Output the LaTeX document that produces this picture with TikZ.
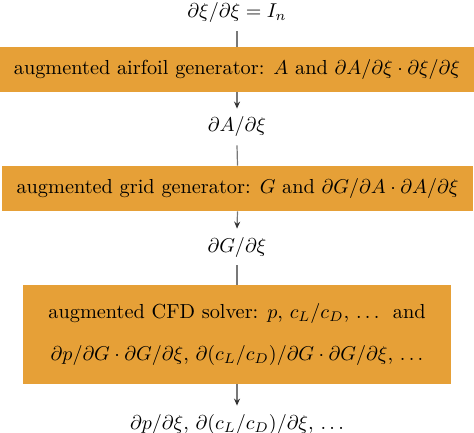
\documentclass[tikz,border=0pt]{standalone}
\usetikzlibrary{arrows.meta}
\definecolor{boxorange}{RGB}{230,160,55}
\definecolor{linegray}{RGB}{120,120,120}
\begin{document}
\begin{tikzpicture}[x=0.5pt,y=-0.5pt,
  every node/.style={font=\fontsize{10.15}{12}\selectfont},
  stagebox/.style={draw=none,fill=boxorange,rectangle,inner sep=0pt,align=center,text=black},
  quant/.style={inner sep=4pt},
  feed/.style={draw=linegray,line width=0.6pt},
  outflow/.style={draw=linegray,line width=0.6pt,-{Stealth[length=3.5pt,width=3pt,black!80]}}]
\useasboundingbox (0,0) rectangle (474,432);
\node[quant] (q0) at (237,13) {$\partial\xi/\partial\xi = I_n$};
\node[stagebox,minimum width=237pt,minimum height=22.5pt] (b1) at (237,69.5)
  {augmented airfoil generator: $A$ and $\partial A/\partial\xi\cdot\partial\xi/\partial\xi$};
\node[quant] (q1) at (237,127) {$\partial A/\partial\xi$};
\node[stagebox,minimum width=235.5pt,minimum height=22.5pt] (b2) at (237.5,188.5)
  {augmented grid generator: $G$ and $\partial G/\partial A\cdot\partial A/\partial\xi$};
\node[quant] (q2) at (237,247) {$\partial G/\partial\xi$};
\node[stagebox,minimum width=214pt,minimum height=49.5pt] (b3) at (237,334.5)
  {augmented CFD solver: $p$, $c_L/c_D$, $\ldots$\ \ and\\[9pt]
   $\partial p/\partial G\cdot\partial G/\partial\xi$, $\partial(c_L/c_D)/\partial G\cdot\partial G/\partial\xi$, $\ldots$};
\node[quant] (q3) at (237,424) {$\partial p/\partial\xi$, $\partial(c_L/c_D)/\partial\xi$, $\ldots$};
\draw[feed] (q0.south) -- (b1.north);
\draw[outflow] (b1.south) -- (q1.north);
\draw[feed] (q1.south) -- (b2.north);
\draw[outflow] (b2.south) -- (q2.north);
\draw[feed] (q2.south) -- (b3.north);
\draw[outflow] (b3.south) -- (q3.north);
\end{tikzpicture}
\end{document}
